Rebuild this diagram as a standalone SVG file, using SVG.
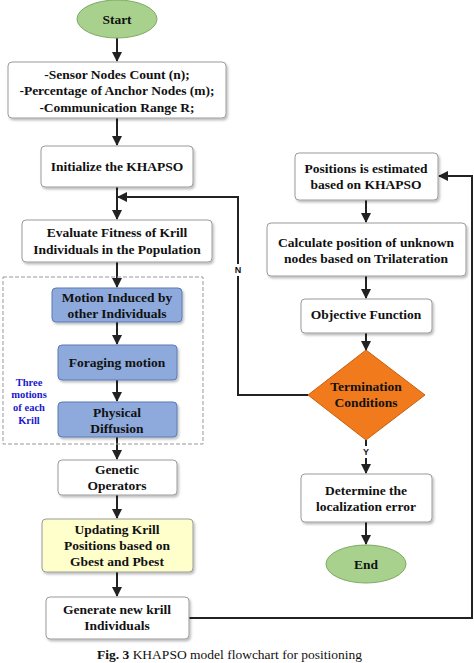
<svg xmlns="http://www.w3.org/2000/svg" width="474" height="663" viewBox="0 0 474 663">
<style>
.box{fill:#ffffff;stroke:#9a9a9a;stroke-width:1}
.blue{fill:#8ea9db;stroke:#5a7ab5;stroke-width:1}
.yel{fill:#ffffcc;stroke:#9a9a9a;stroke-width:1}
.ell{fill:#a9d18e;stroke:#7fa865;stroke-width:1}
.dia{fill:#f07a1c;stroke:#c86010;stroke-width:1}
.t{font-family:"Liberation Serif","Times New Roman",serif;font-weight:bold;font-size:13.5px;fill:#111;text-anchor:middle}
.tb{font-family:"Liberation Serif","Times New Roman",serif;font-weight:bold;font-size:10.5px;fill:#1a1acc;text-anchor:middle}
.lab{font-family:"Liberation Sans",Arial,sans-serif;font-weight:bold;font-size:9px;fill:#111;text-anchor:middle}
.cap{font-family:"Liberation Serif","Times New Roman",serif;font-size:13.5px;fill:#111}
.ln{fill:none;stroke:#222;stroke-width:2}
</style>
<defs>
<marker id="ah" viewBox="0 0 10 10" refX="9" refY="5" markerWidth="5" markerHeight="5" orient="auto" markerUnits="strokeWidth">
<path d="M0,0 L10,5 L0,10 z" fill="#222"/>
</marker>
<filter id="sh" x="-10%" y="-10%" width="130%" height="140%">
<feDropShadow dx="1.5" dy="2" stdDeviation="1.2" flood-color="#000" flood-opacity="0.25"/>
</filter>
</defs>

<g id="connectors">
<line class="ln" x1="117" y1="38" x2="117" y2="61" marker-end="url(#ah)"/>
<line class="ln" x1="117" y1="118" x2="117" y2="145" marker-end="url(#ah)"/>
<line class="ln" x1="117" y1="187" x2="117" y2="219" marker-end="url(#ah)"/>
<line class="ln" x1="117" y1="262" x2="117" y2="287" marker-end="url(#ah)"/>
<line class="ln" x1="117" y1="322" x2="117" y2="344" marker-end="url(#ah)"/>
<line class="ln" x1="117" y1="380" x2="117" y2="401" marker-end="url(#ah)"/>
<line class="ln" x1="117" y1="437" x2="117" y2="459" marker-end="url(#ah)"/>
<line class="ln" x1="117" y1="495" x2="117" y2="518" marker-end="url(#ah)"/>
<line class="ln" x1="117" y1="572" x2="117" y2="596" marker-end="url(#ah)"/>
<polyline class="ln" points="189,618 472,618 472,176 439,176" marker-end="url(#ah)"/>
<line class="ln" x1="366" y1="200" x2="366" y2="222" marker-end="url(#ah)"/>
<line class="ln" x1="366" y1="276" x2="366" y2="298" marker-end="url(#ah)"/>
<line class="ln" x1="366" y1="333" x2="366" y2="350" marker-end="url(#ah)"/>
<polyline class="ln" points="308,395 238,395 238,197 118,197" marker-end="url(#ah)"/>
<line class="ln" x1="366" y1="440" x2="366" y2="473" marker-end="url(#ah)"/>
<line class="ln" x1="366" y1="522" x2="366" y2="544" marker-end="url(#ah)"/>
<rect x="233" y="264" width="10" height="12" fill="#fff"/>
<text class="lab" x="238" y="273">N</text>
<rect x="361" y="446" width="10" height="12" fill="#fff"/>
<text class="lab" x="366" y="455">Y</text>
</g>

<g id="group-three-motions">
<rect x="3" y="277" width="200" height="167" fill="none" stroke="#999" stroke-width="1" stroke-dasharray="4,2"/>
<text class="tb" x="29" y="386">Three</text>
<text class="tb" x="29" y="398">motions</text>
<text class="tb" x="29" y="411">of each</text>
<text class="tb" x="29" y="424">Krill</text>
</g>

<g id="start">
<ellipse class="ell" cx="117" cy="19" rx="40" ry="19"/>
<text class="t" x="117" y="24" font-size="14">Start</text>
</g>

<g id="params">
<rect class="box" x="8" y="62" width="218" height="56" rx="4" filter="url(#sh)"/>
<text class="t" x="117" y="79">-Sensor Nodes Count (n);</text>
<text class="t" x="117" y="95">-Percentage of Anchor Nodes (m);</text>
<text class="t" x="117" y="112">-Communication Range R;</text>
</g>

<g id="init">
<rect class="box" x="41" y="146" width="152" height="41" rx="4" filter="url(#sh)"/>
<text class="t" x="117" y="171">Initialize the KHAPSO</text>
</g>

<g id="evaluate">
<rect class="box" x="22" y="220" width="190" height="42" rx="4" filter="url(#sh)"/>
<text class="t" x="117" y="237">Evaluate Fitness of Krill</text>
<text class="t" x="117" y="254">Individuals in the Population</text>
</g>

<g id="motion-induced">
<rect class="blue" x="52" y="288" width="130" height="34" rx="4" filter="url(#sh)"/>
<text class="t" x="117" y="302">Motion Induced by</text>
<text class="t" x="117" y="318">other Individuals</text>
</g>

<g id="foraging">
<rect class="blue" x="58" y="345" width="119" height="35" rx="4" filter="url(#sh)"/>
<text class="t" x="117" y="367">Foraging motion</text>
</g>

<g id="diffusion">
<rect class="blue" x="58" y="402" width="119" height="35" rx="4" filter="url(#sh)"/>
<text class="t" x="117" y="417">Physical</text>
<text class="t" x="117" y="433">Diffusion</text>
</g>

<g id="genetic">
<rect class="box" x="58" y="460" width="119" height="35" rx="4" filter="url(#sh)"/>
<text class="t" x="117" y="474">Genetic</text>
<text class="t" x="117" y="490">Operators</text>
</g>

<g id="updating">
<rect class="yel" x="42" y="519" width="151" height="53" rx="4" filter="url(#sh)"/>
<text class="t" x="117" y="534">Updating Krill</text>
<text class="t" x="117" y="550">Positions based on</text>
<text class="t" x="117" y="566">Gbest and Pbest</text>
</g>

<g id="generate">
<rect class="box" x="46" y="597" width="143" height="42" rx="4" filter="url(#sh)"/>
<text class="t" x="117" y="614">Generate new krill</text>
<text class="t" x="117" y="630">Individuals</text>
</g>

<g id="positions">
<rect class="box" x="295" y="153" width="143" height="47" rx="4" filter="url(#sh)"/>
<text class="t" x="366" y="173">Positions is estimated</text>
<text class="t" x="366" y="189">based on KHAPSO</text>
</g>

<g id="calculate">
<rect class="box" x="267" y="223" width="199" height="53" rx="4" filter="url(#sh)"/>
<text class="t" x="366" y="247">Calculate position of unknown</text>
<text class="t" x="366" y="263">nodes based on Trilateration</text>
</g>

<g id="objective">
<rect class="box" x="301" y="299" width="131" height="34" rx="4" filter="url(#sh)"/>
<text class="t" x="366" y="319">Objective Function</text>
</g>

<g id="termination">
<polygon class="dia" points="366,350 425,395 366,440 308,395"/>
<text class="t" x="366" y="391" fill="#3a1a08">Termination</text>
<text class="t" x="366" y="407" fill="#3a1a08">Conditions</text>
</g>

<g id="determine">
<rect class="box" x="301" y="474" width="131" height="48" rx="4" filter="url(#sh)"/>
<text class="t" x="366" y="495">Determine the</text>
<text class="t" x="366" y="511">localization error</text>
</g>

<g id="end">
<ellipse class="ell" cx="366" cy="564" rx="40" ry="19"/>
<text class="t" x="366" y="569" font-size="14">End</text>
</g>

<text class="cap" x="97" y="659"><tspan font-weight="bold">Fig. 3</tspan> KHAPSO model flowchart for positioning</text>
</svg>
